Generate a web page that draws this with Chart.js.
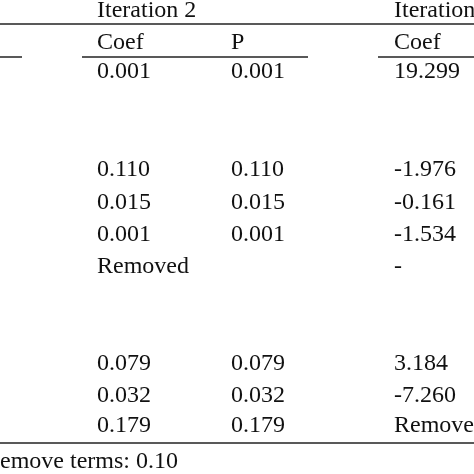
<!DOCTYPE html>
<html><head><meta charset="utf-8">
<script src="https://cdn.jsdelivr.net/npm/chart.js@4/dist/chart.umd.min.js"></script>
<style>html,body{margin:0;padding:0;background:#fff}#w{width:474px;height:474px}</style>
</head><body><div id="w"><canvas id="c" width="474" height="474"></canvas></div>
<script>
const groupHeaders = ["Iteration 2", "Iteration 3"];
const columnHeaders = ["Coef", "P", "Coef"];
const iter2Coef = ["0.001", "", "", "0.110", "0.015", "0.001", "Removed", "", "", "0.079", "0.032", "0.179"];
const iter2P    = ["0.001", "", "", "0.110", "0.015", "0.001", "", "", "", "0.079", "0.032", "0.179"];
const iter3Coef = ["19.299", "", "", "-1.976", "-0.161", "-1.534", "-", "", "", "3.184", "-7.260", "Removed"];
const footnote = "Remove terms: 0.10";
const rowY = [72, 104, 137, 170, 203, 235, 267, 299, 331, 364, 396, 426];

const tablePlugin = {
  id: 'table',
  afterDraw(chart) {
    const ctx = chart.ctx;
    ctx.save();
    ctx.fillStyle = '#111';
    ctx.font = '24px "Liberation Serif", serif';
    ctx.textBaseline = 'middle';
    ctx.textAlign = 'left';
    ctx.fillText(groupHeaders[0], 97, 11);
    ctx.fillText(groupHeaders[1], 394, 11);
    ctx.fillText(columnHeaders[0], 97, 43);
    ctx.fillText(columnHeaders[1], 231, 43);
    ctx.fillText(columnHeaders[2], 394, 43);
    iter2Coef.forEach((t, i) => t && ctx.fillText(t, 97, rowY[i]));
    iter2P.forEach((t, i) => t && ctx.fillText(t, 231, rowY[i]));
    iter3Coef.forEach((t, i) => t && ctx.fillText(t, 394, rowY[i]));
    ctx.fillText(footnote, -16, 462);
    ctx.strokeStyle = '#222';
    ctx.lineWidth = 1.5;
    const seg = (x1, x2, y) => { ctx.beginPath(); ctx.moveTo(x1, y); ctx.lineTo(x2, y); ctx.stroke(); };
    seg(0, 474, 24);
    seg(0, 22, 57); seg(82, 308, 57); seg(378, 474, 57);
    seg(0, 474, 443);
    ctx.restore();
  }
};

new Chart(document.getElementById('c'), {
  type: 'bar',
  data: { labels: [''], datasets: [{ data: [0] }] },
  options: {
    responsive: false, animation: false,
    plugins: { legend: { display: false }, tooltip: { enabled: false } },
    scales: { x: { display: false }, y: { display: false } }
  },
  plugins: [tablePlugin]
});
</script></body></html>
